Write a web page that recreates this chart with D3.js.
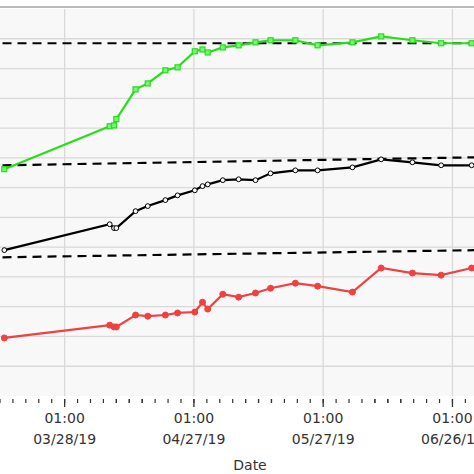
<!DOCTYPE html>
<html><head><meta charset="utf-8">
<script src="https://cdn.jsdelivr.net/npm/d3@7"></script>
<style>body{margin:0;background:#fff}</style>
</head><body><div id="chart"></div>
<script>
var dates = ["2019-03-14T01:00","2019-04-07T12:00","2019-04-08T12:00","2019-04-09T01:00","2019-04-13T12:00","2019-04-16T08:00",
  "2019-04-20T10:00","2019-04-23T06:00","2019-04-27T06:00","2019-04-29T01:00","2019-04-30T06:00","2019-05-03T18:00",
  "2019-05-07T10:00","2019-05-11T08:00","2019-05-14T20:00","2019-05-20T14:00","2019-05-25T18:00","2019-06-02T20:00",
  "2019-06-09T12:00","2019-06-16T18:00","2019-06-23T10:00","2019-06-30T12:00"];
var green = [7.62,9.06,9.09,9.30,10.30,10.50,10.94,11.04,11.58,11.64,11.54,11.71,11.78,11.88,11.95,11.95,11.78,11.88,12.08,11.95,11.85,11.85];
var black = [4.90,5.77,5.64,5.64,6.21,6.38,6.58,6.74,6.91,7.05,7.11,7.25,7.28,7.25,7.48,7.58,7.58,7.68,7.95,7.85,7.75,7.75];
var red = [1.95,2.38,2.32,2.32,2.72,2.68,2.72,2.79,2.82,3.15,2.92,3.42,3.32,3.46,3.62,3.79,3.69,3.49,4.30,4.13,4.06,4.30];
var refDates = ["2019-03-13T15:00","2019-07-02T00:00"];
var refLines = [[11.85,11.85],[7.75,8.02],[4.66,4.90]];
var tickDates = ["2019-03-28T01:00","2019-04-27T01:00","2019-05-27T01:00","2019-06-26T01:00"];

function init(){
    var w = 474, h = 474;
    var parse = d3.timeParse("%Y-%m-%dT%H:%M");
    var top = 9, bottom = 396;
    // 03/28 01:00 lands at ~62px, 30 days ~129px
    var t0 = parse("2019-03-28T01:00");
    var pxPerDay = 129.3/30;
    var x = d3.scaleTime()
        .domain([d3.timeDay.offset(t0, -62/pxPerDay), d3.timeDay.offset(t0, (474-62)/pxPerDay)])
        .range([0, w]);
    var y = d3.scaleLinear().domain([0,13]).range([bottom, top]);

    var svg = d3.select("#chart").append("svg").attr("width", w).attr("height", h)
        .style("font-family", "'DejaVu Sans', sans-serif");

    svg.append("rect").attr("x",0).attr("y",top).attr("width",w).attr("height",bottom-top).attr("fill","#f8f8f8");
    svg.append("line").attr("x1",0).attr("x2",w).attr("y1",7).attr("y2",7).attr("stroke","#bbb").attr("stroke-width",2);

    // grid
    svg.selectAll(".hg").data(d3.range(1,13)).enter().append("line")
        .attr("x1",0).attr("x2",w).attr("y1",function(d){return y(d);}).attr("y2",function(d){return y(d);})
        .attr("stroke","#d9d9d9").attr("stroke-width",1.3);
    var ticks = tickDates.map(parse);
    svg.selectAll(".vg").data(ticks).enter().append("line")
        .attr("x1",function(d){return x(d);}).attr("x2",function(d){return x(d);})
        .attr("y1",top).attr("y2",bottom).attr("stroke","#d9d9d9").attr("stroke-width",1.3);

    // x axis ticks
    var xa = svg.append("g").attr("transform","translate(0,"+(bottom+3)+")");
    var mt = [];
    ticks.forEach(function(t){ for (var k=-6;k<=6;k++){ mt.push(d3.timeDay.offset(t,3*k)); } });
    xa.selectAll(".mt").data(mt).enter().append("line")
        .attr("x1",function(d){return x(d);}).attr("x2",function(d){return x(d);})
        .attr("y1",0).attr("y2",4).attr("stroke","#333").attr("stroke-width",1.2);
    xa.selectAll(".Mt").data(ticks).enter().append("line")
        .attr("x1",function(d){return x(d);}).attr("x2",function(d){return x(d);})
        .attr("y1",0).attr("y2",8).attr("stroke","#333").attr("stroke-width",1.3);
    var fmtD = d3.timeFormat("%m/%d/%y");
    xa.selectAll(".l1").data(ticks).enter().append("text")
        .attr("x",function(d){return x(d);}).attr("y",24).attr("text-anchor","middle")
        .attr("font-size",14).attr("fill","#333").text("01:00");
    xa.selectAll(".l2").data(ticks).enter().append("text")
        .attr("x",function(d){return x(d);}).attr("y",45).attr("text-anchor","middle")
        .attr("font-size",14).attr("fill","#333").text(function(d){return fmtD(d);});
    svg.append("text").attr("x",250).attr("y",470).attr("text-anchor","middle")
        .attr("font-size",14).attr("fill","#333").text("Date");

    // reference dashed lines
    var rd = refDates.map(parse);
    refLines.forEach(function(r){
        svg.append("line").attr("x1",x(rd[0])).attr("x2",x(rd[1])).attr("y1",y(r[0])).attr("y2",y(r[1]))
            .attr("stroke","#000").attr("stroke-width",2.2).attr("stroke-dasharray","9,6");
    });

    var pd = dates.map(parse);
    var line = d3.line().x(function(d,i){return x(pd[i]);}).y(function(d){return y(d);});
    var series = [
        {v:green, c:"#22e015", m:"square"},
        {v:black, c:"#000", m:"circle"},
        {v:red, c:"#f04040", m:"dot"}
    ];
    series.forEach(function(s){
        svg.append("path").datum(s.v).attr("d",line).attr("fill","none").attr("stroke",s.c).attr("stroke-width",2.2);
        var g = svg.append("g");
        if (s.m === "square") {
            g.selectAll("rect").data(s.v).enter().append("rect")
                .attr("x",function(d,i){return x(pd[i])-2.5;}).attr("y",function(d){return y(d)-2.5;})
                .attr("width",5).attr("height",5).attr("fill","#7ef07e").attr("stroke",s.c).attr("stroke-width",1.2);
        } else {
            g.selectAll("circle").data(s.v).enter().append("circle")
                .attr("cx",function(d,i){return x(pd[i]);}).attr("cy",function(d){return y(d);})
                .attr("r", s.m === "dot" ? 3 : 2.4)
                .attr("fill", s.m === "dot" ? s.c : "#f8f8f8").attr("stroke",s.c).attr("stroke-width",1);
        }
    });
}
window.onload = init;
</script>
</body></html>
